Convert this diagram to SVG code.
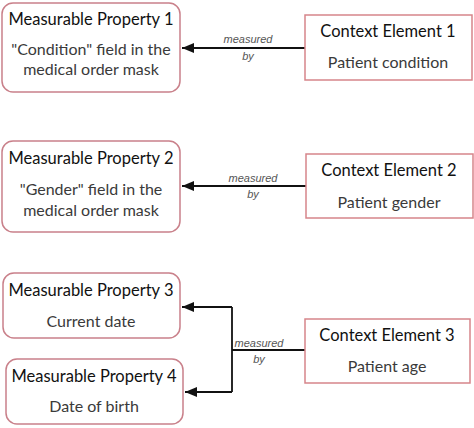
<svg xmlns="http://www.w3.org/2000/svg" width="474" height="428" viewBox="0 0 474 428">
<defs>
<style>
.mp{fill:#fff;stroke:#c9808a;stroke-width:1.5}
.ce{fill:#fff;stroke:#d6858a;stroke-width:1.5}
.t{font-family:Lato,"Open Sans",sans-serif;font-size:16.5px;fill:#111;text-anchor:middle}
.b{font-family:Lato,"Open Sans",sans-serif;font-size:16px;fill:#3a3a3a;text-anchor:middle}
.lbl{font-family:"Liberation Sans",Arial,sans-serif;font-style:italic;font-size:11px;fill:#555;text-anchor:middle}
.c{stroke:#111;stroke-width:1.8;fill:none}
</style>
<marker id="ah" viewBox="0 0 12 10" refX="12" refY="5" markerWidth="12" markerHeight="10" markerUnits="userSpaceOnUse" orient="auto">
<path d="M0,0 L12,5 L0,10 z" fill="#111"/>
</marker>
</defs>
<rect width="474" height="428" fill="#fff"/>
<g id="connectors">
<line class="c" x1="305" y1="48" x2="182" y2="48" marker-end="url(#ah)"/>
<text class="lbl" x="248" y="43">measured</text>
<text class="lbl" x="248" y="60">by</text>
<line class="c" x1="306" y1="186" x2="182" y2="186" marker-end="url(#ah)"/>
<text class="lbl" x="253" y="182">measured</text>
<text class="lbl" x="253" y="198">by</text>
<line class="c" x1="305" y1="350" x2="232" y2="350"/>
<polyline class="c" points="232,307 232,392"/>
<line class="c" x1="232" y1="307" x2="182" y2="307" marker-end="url(#ah)"/>
<line class="c" x1="232" y1="392" x2="185" y2="392" marker-end="url(#ah)"/>
<text class="lbl" x="259" y="347">measured</text>
<text class="lbl" x="259" y="363">by</text>
</g>
<g id="mp1">
<rect class="mp" x="2" y="3" width="178" height="89" rx="11"/>
<text class="t" x="91" y="25">Measurable Property 1</text>
<text class="b" x="91" y="55">"Condition" field in the</text>
<text class="b" x="91" y="75">medical order mask</text>
</g>
<g id="ce1">
<rect class="ce" x="305" y="15" width="167" height="65"/>
<text class="t" x="388" y="37">Context Element 1</text>
<text class="b" x="388" y="68">Patient condition</text>
</g>
<g id="mp2">
<rect class="mp" x="2" y="141" width="178" height="91" rx="11"/>
<text class="t" x="91" y="164">Measurable Property 2</text>
<text class="b" x="91" y="195">"Gender" field in the</text>
<text class="b" x="91" y="216">medical order mask</text>
</g>
<g id="ce2">
<rect class="ce" x="306" y="154" width="167" height="64"/>
<text class="t" x="389" y="176">Context Element 2</text>
<text class="b" x="389" y="208">Patient gender</text>
</g>
<g id="mp3">
<rect class="mp" x="3" y="273" width="177" height="65" rx="11"/>
<text class="t" x="91" y="296">Measurable Property 3</text>
<text class="b" x="91" y="327">Current date</text>
</g>
<g id="mp4">
<rect class="mp" x="6" y="359" width="177" height="65" rx="11"/>
<text class="t" x="94" y="382">Measurable Property 4</text>
<text class="b" x="94" y="412">Date of birth</text>
</g>
<g id="ce3">
<rect class="ce" x="305" y="319" width="165" height="64"/>
<text class="t" x="387" y="341">Context Element 3</text>
<text class="b" x="387" y="372">Patient age</text>
</g>
</svg>
